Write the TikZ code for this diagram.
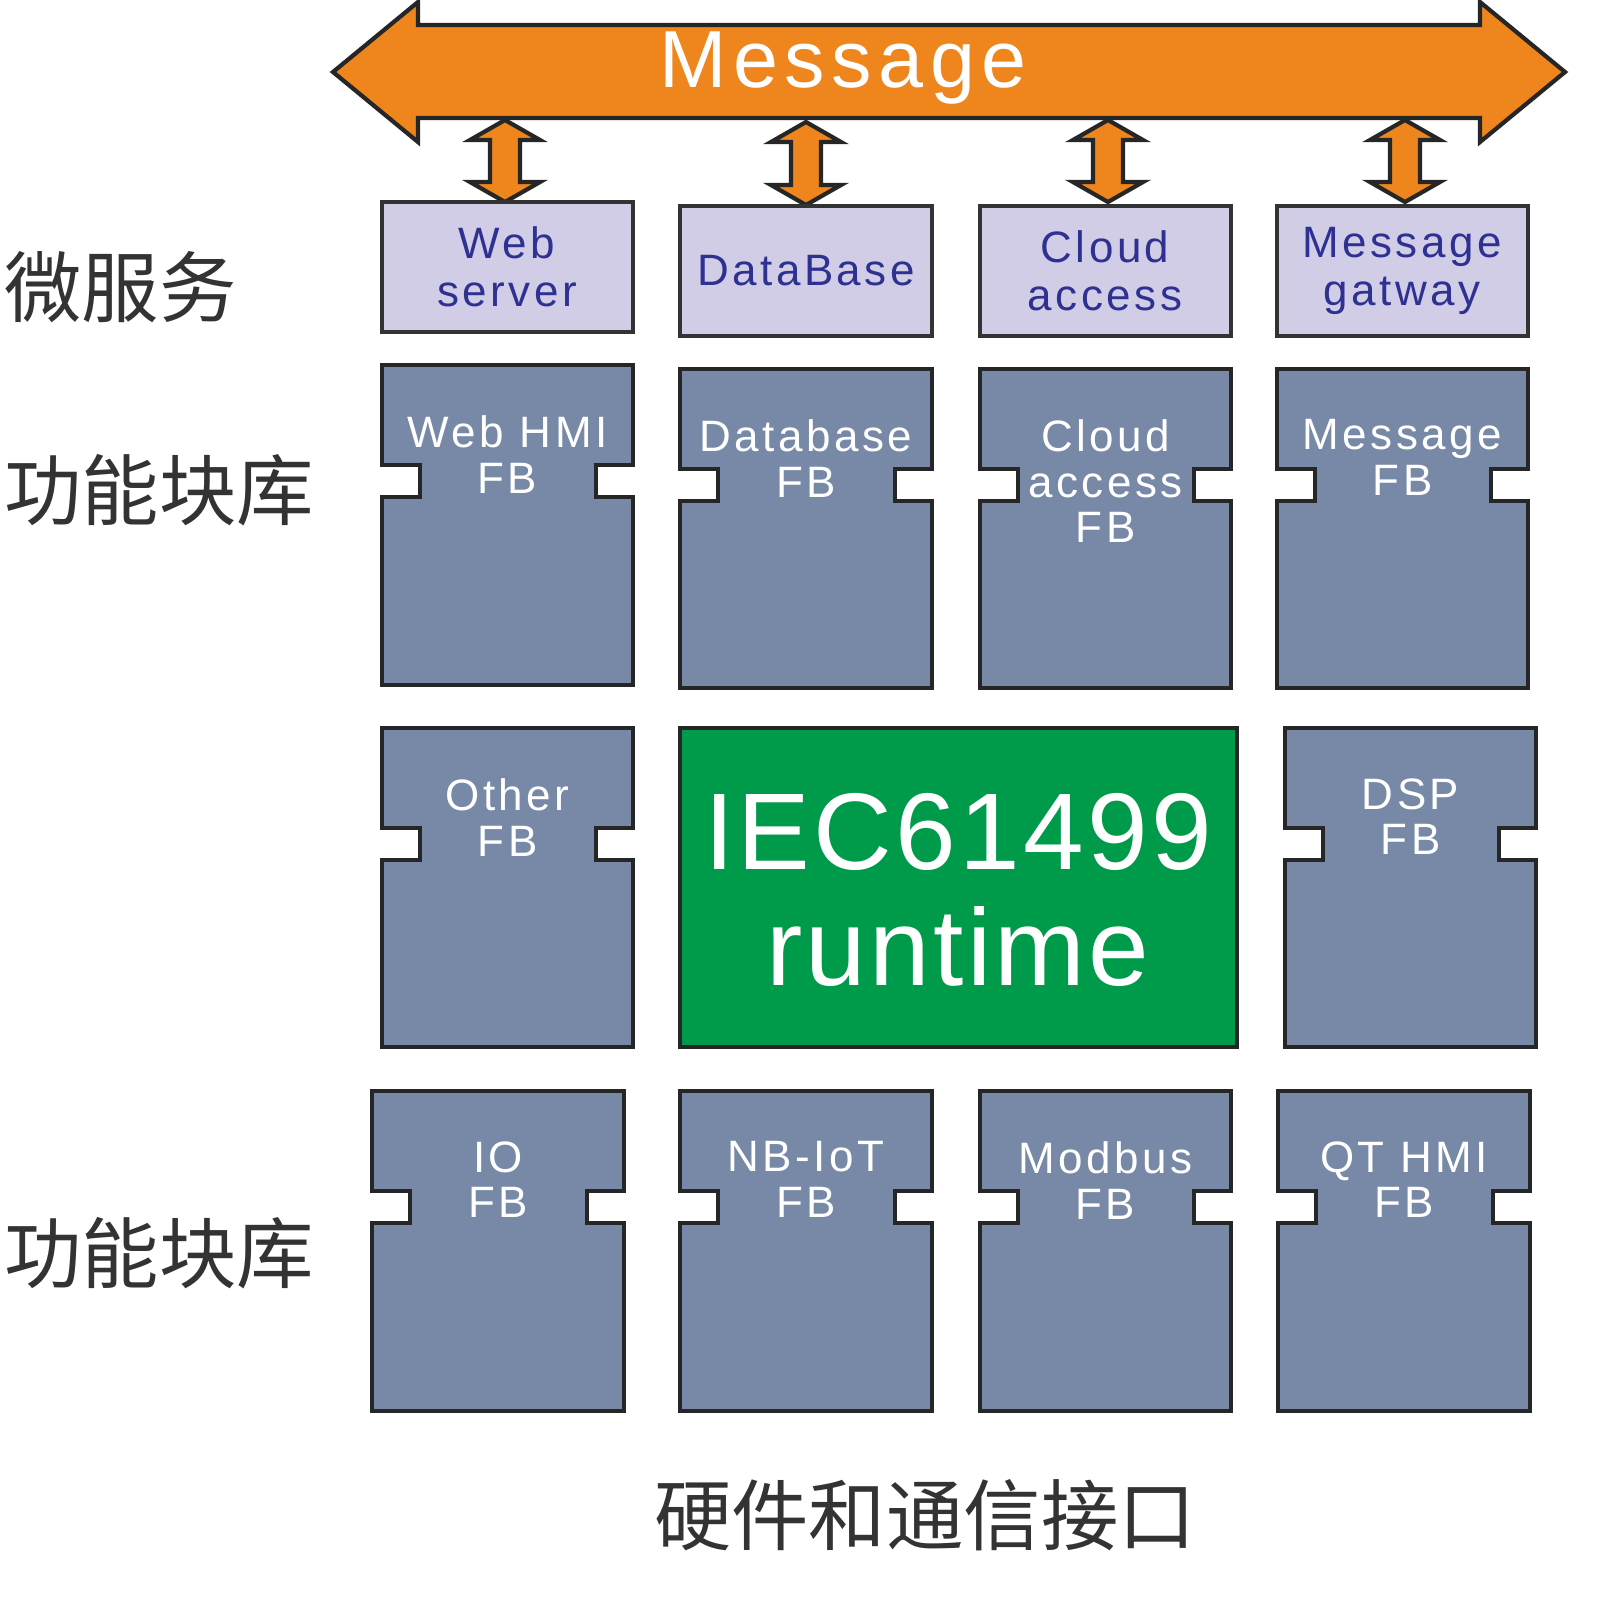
\documentclass[tikz,border=0pt]{standalone}
\usepackage{fontspec}
\setmainfont{Liberation Sans}[LetterSpace=8]
\newfontfamily\rtfont{Liberation Sans}[LetterSpace=3]
\newfontfamily\cjk{Noto Sans CJK SC}
\usetikzlibrary{positioning,calc}

\definecolor{msgorange}{HTML}{EF861D}
\definecolor{svcfill}{HTML}{D1CDE6}
\definecolor{svctext}{HTML}{2E3192}
\definecolor{fbfill}{HTML}{7889A7}
\definecolor{rtgreen}{HTML}{009A4B}
\definecolor{cjkgray}{HTML}{333333}

\tikzset{
  svc/.style={draw=black!80,line width=1.2pt,fill=svcfill},
  svclabel/.style={text=svctext,font=\fontsize{12.5}{13.5}\selectfont,align=center},
  fb/.style={draw=black!85,line width=1.2pt,fill=fbfill},
  fblabel/.style={text=white,font=\fontsize{12.5}{13}\selectfont,align=center,anchor=north},
  bus/.style={draw=black!85,line width=1.2pt,fill=msgorange},
  side/.style={text=cjkgray,font=\cjk\fontsize{22}{24}\selectfont,anchor=west}
}

% puzzle shaped function block
\newcommand{\fbblock}[6]{%
  \draw[fb] (#2,#3) -- (#4,#3) -- (#4,#3+100) -- (#4-37,#3+100) -- (#4-37,#3+132)
    -- (#4,#3+132) -- (#4,#5) -- (#2,#5) -- (#2,#3+132) -- (#2+38,#3+132)
    -- (#2+38,#3+100) -- (#2,#3+100) -- cycle;
  \node[fblabel] (#1) at ({(#2+#4)/2},#3+38) {#6};}
% small two way arrow
\newcommand{\updown}[3]{%
  \draw[bus] (#1,#2) -- (#1+35,#2+20) -- (#1+15,#2+20) -- (#1+15,#3-20) -- (#1+35,#3-20)
    -- (#1,#3) -- (#1-35,#3-20) -- (#1-15,#3-20) -- (#1-15,#2+20) -- (#1-35,#2+20) -- cycle;}

\begin{document}
\begin{tikzpicture}[x=0.01cm,y=-0.01cm]
  \useasboundingbox (0,0) rectangle (1620,1605);

    % message bus
    \draw[bus] (333,72) -- (418,2) -- (418,25) -- (1480,25) -- (1480,2) -- (1565,72)
      -- (1480,142) -- (1480,118) -- (418,118) -- (418,142) -- cycle;
    \node[text=white,font=\fontsize{23}{24}\selectfont] (bus) at (843,68) {Message};

    \updown{505}{120}{202}
    \updown{806}{122}{205}
    \updown{1108}{120}{202}
    \updown{1405}{120}{202}

    % micro services
    \draw[svc] (382,202) rectangle (633,332);
    \node[svclabel] (web) at (507,267) {Web\\server};
    \draw[svc] (680,206) rectangle (932,336);
    \node[svclabel] (db) at (806,271) {DataBase};
    \draw[svc] (980,206) rectangle (1231,336);
    \node[svclabel] (cloud) at (1105,271) {Cloud\\access};
    \draw[svc] (1277,206) rectangle (1528,336);
    \node[svclabel] (msg) at (1402,271) {Message\\gatway};

    % function blocks
    \fbblock{webfb}{382}{365}{633}{685}{Web HMI\\FB}
    \fbblock{dbfb}{680}{369}{932}{688}{Database\\FB}
    \fbblock{cloudfb}{980}{369}{1231}{688}{Cloud\\access\\FB}
    \fbblock{msgfb}{1277}{369}{1528}{688}{Message\\FB}
    \fbblock{otherfb}{382}{728}{633}{1047}{Other\\FB}
    \fbblock{dspfb}{1285}{728}{1536}{1047}{DSP\\FB}
    \fbblock{iofb}{372}{1091}{624}{1411}{IO\\FB}
    \fbblock{nbfb}{680}{1091}{932}{1411}{NB-IoT\\FB}
    \fbblock{modfb}{980}{1091}{1231}{1411}{Modbus\\FB}
    \fbblock{qtfb}{1278}{1091}{1530}{1411}{QT HMI\\FB}

    % runtime
    \draw[draw=black!85,line width=1.2pt,fill=rtgreen] (680,728) rectangle (1237,1047);
    \node[text=white,font=\rtfont\fontsize{31}{33}\selectfont,align=center] (rt) at (958,890) {IEC61499\\runtime};

    % side labels
    \node[side] (svcside) at (-8,287) {微服务};
    \node[side] (fbside1) at (-8,490) {功能块库};
    \node[side] (fbside2) at (-8,1253) {功能块库};
    \node[text=cjkgray,font=\cjk\fontsize{22}{24}\selectfont] (hw) at (925,1515) {硬件和通信接口};
\end{tikzpicture}
\end{document}
